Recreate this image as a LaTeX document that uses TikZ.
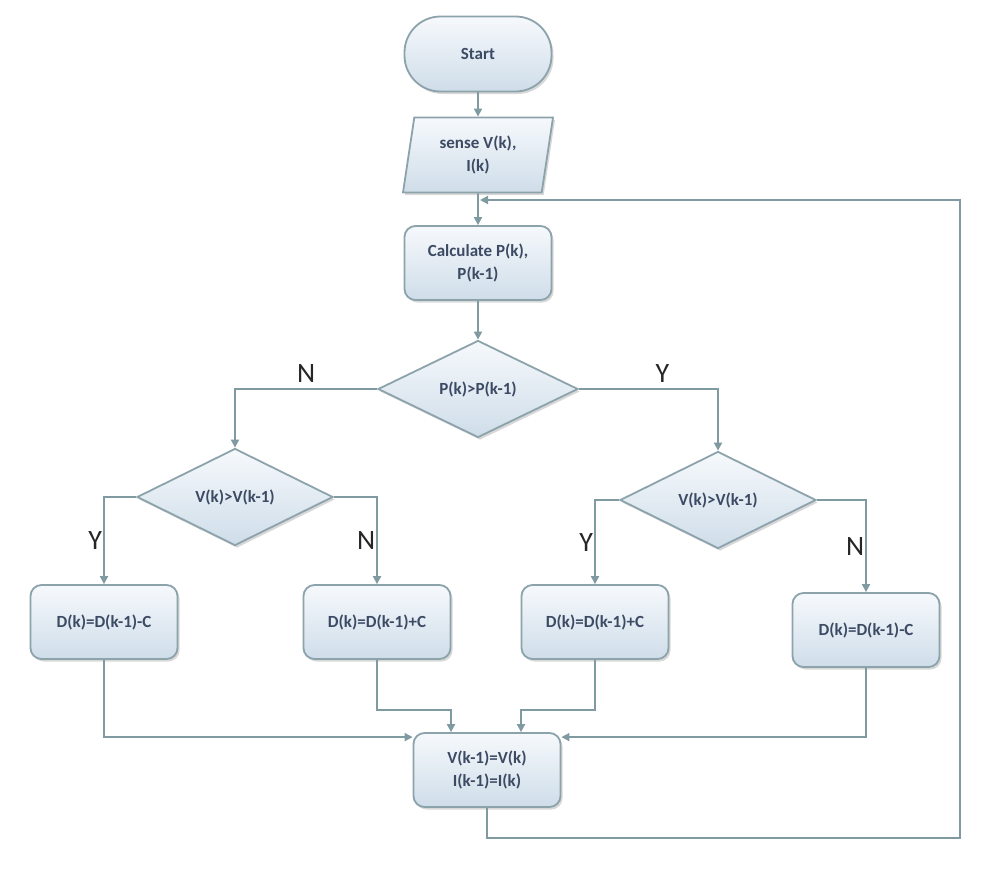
\documentclass[tikz,border=0pt]{standalone}
\usepackage{fontspec}
\setmainfont{Carlito}
\usetikzlibrary{shapes.geometric,shadows,arrows.meta,calc}
\definecolor{linec}{HTML}{7F9BA1}
\definecolor{borderc}{HTML}{8CA3AB}
\definecolor{boxtop}{HTML}{F6F9FC}
\definecolor{boxbot}{HTML}{CFDDE9}
\definecolor{txtc}{HTML}{3C4A64}
\tikzset{
  x=1pt,y=-1pt,
  basebox/.style={draw=borderc, line width=1.8pt, top color=boxtop, bottom color=boxbot,
    drop shadow={opacity=0.3, shadow xshift=2pt, shadow yshift=-2.5pt},
    font=\fontsize{17}{23}\selectfont\bfseries, text=txtc, align=center, inner sep=2pt},
  procbox/.style={basebox, rectangle, rounded corners=11pt, minimum width=147pt, minimum height=74pt},
  termbox/.style={basebox, rectangle, rounded corners=36pt, minimum width=147pt, minimum height=75pt},
  iobox/.style={basebox, trapezium, trapezium left angle=75, trapezium right angle=105,
    trapezium stretches body, minimum width=150pt, minimum height=75pt},
  decbox/.style={basebox, diamond, aspect=2, inner sep=0pt, minimum width=200pt, minimum height=97pt},
  conn/.style={draw=linec, line width=1.8pt},
  arr/.style={conn, -{Triangle[length=8pt,width=8pt]}},
  yn/.style={font=\fontsize{28}{30}\selectfont, text=black!85, inner sep=1pt}
}
\begin{document}
\begin{tikzpicture}
\useasboundingbox (0,0) rectangle (994,878);
\fill[white] (0,0) rectangle (994,878);

\node[termbox] (start) at (478,54) {Start};
\node[iobox] (sense) at (478,155) {sense V(k),\\I(k)};
\node[procbox] (calc) at (478,263) {Calculate P(k),\\P(k-1)};
\node[decbox] (dp) at (478,389) {P(k)>P(k-1)};
\node[decbox, minimum width=196pt] (dvl) at (235,497) {V(k)>V(k-1)};
\node[decbox, minimum width=196pt] (dvr) at (718,500) {V(k)>V(k-1)};
\node[procbox] (b1) at (104,622) {D(k)=D(k-1)-C};
\node[procbox] (b2) at (377,622) {D(k)=D(k-1)+C};
\node[procbox] (b3) at (595,622) {D(k)=D(k-1)+C};
\node[procbox] (b4) at (866,630) {D(k)=D(k-1)-C};
\node[procbox] (fin) at (487,770) {V(k-1)=V(k)\\I(k-1)=I(k)};

\coordinate (lb) at (960,838);
\coordinate (lt) at (960,200);
\coordinate (lm) at (480,200);

\draw[arr] (start) -- (sense);
\draw[arr] (sense) -- (calc);
\draw[arr] (calc) -- (dp);
\draw[arr] (dp.west) -| node[yn, pos=0.25, above=5pt] {N} (dvl.north);
\draw[arr] (dp.east) -| node[yn, pos=0.3, above=5pt] {Y} (dvr.north);
\draw[arr] (dvl.west) -| node[yn, pos=0.75, left=0pt] {Y} (b1.north);
\draw[arr] (dvl.east) -| node[yn, pos=0.75, left=0pt] {N} (b2.north);
\draw[arr] (dvr.west) -| node[yn, pos=0.75, left=0pt] {Y} (b3.north);
\draw[arr] (dvr.east) -| node[yn, pos=0.75, left=0pt] {N} (b4.north);

\draw[arr] (b1.south) |- ([yshift=-5pt]fin.north west);
\draw[arr] (b4.south) |- ([yshift=-5pt]fin.north east);
\draw[arr] (b2.south) -- ++(0,50) -| ([xshift=-36pt]fin.north);
\draw[arr] (b3.south) -- ++(0,50) -| ([xshift=34pt]fin.north);
\draw[arr] (fin.south) |- (lb) -- (lt) -- (lm);
\end{tikzpicture}
\end{document}
